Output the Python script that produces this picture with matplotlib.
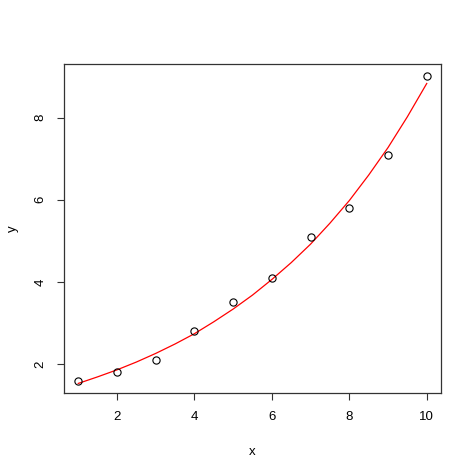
import matplotlib
matplotlib.use("Agg")
from matplotlib import pyplot as plt

plt.rcParams['font.family'] = ['Liberation Sans', 'DejaVu Sans']

# observed points
x = [1, 2, 3, 4, 5, 6, 7, 8, 9, 10]
y = [1.6, 1.8, 2.1, 2.8, 3.5, 4.1, 5.1, 5.8, 7.1, 9.0]

# fitted curve
x_fit = [1, 1.5, 2, 2.5, 3, 3.5, 4, 4.5, 5, 5.5, 6, 6.5, 7, 7.5, 8, 8.5, 9, 9.5, 10]
y_fit = [1.53, 1.69, 1.86, 2.05, 2.26, 2.49, 2.74, 3.03, 3.34, 3.68, 4.06,
         4.47, 4.92, 5.43, 5.98, 6.60, 7.27, 8.02, 8.83]

x_ticks = [2, 4, 6, 8, 10]
y_ticks = [2, 4, 6, 8]

fig = plt.figure(figsize=(4.74, 4.74), dpi=100)
ax = fig.add_axes([0.1357, 0.1715, 0.794, 0.6928])

ax.plot(x_fit, y_fit, color='red', lw=0.9)
ax.plot(x, y, 'o', mfc='none', mec='black', ms=5.2, mew=0.8)

ax.set_xlim(0.64, 10.36)
ax.set_ylim(1.304, 9.296)
ax.set_xticks(x_ticks)
ax.set_yticks(y_ticks)
ax.set_xticklabels([str(v) for v in x_ticks], fontsize=9.5)
ax.set_yticklabels([str(v) for v in y_ticks], fontsize=9.5, rotation=90, va='center')
ax.tick_params(length=5, width=0.8, color='#333333', pad=8)

for s in ax.spines.values():
    s.set_color('#333333')
    s.set_linewidth(0.9)

ax.set_xlabel('x', fontsize=9.5, labelpad=17)
ax.set_ylabel('y', fontsize=9.5, labelpad=11)

fig.savefig('out.png', dpi=100)
